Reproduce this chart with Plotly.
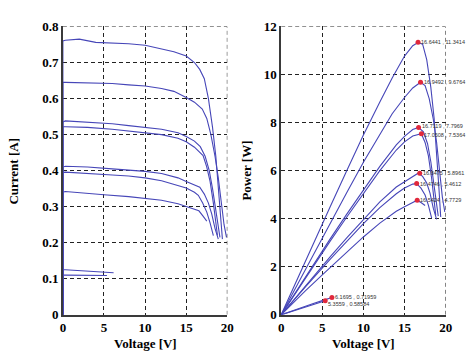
import numpy as np
import plotly.graph_objects as go

# ---- I-V curves (voltage [V], current [A]) ----
v_a = [0, 0, 0.3, 2, 4, 6, 8, 10, 12, 13.5, 15, 16, 16.64, 17.2, 17.7, 18.2, 18.6, 18.9, 19.2, 19.4]
i_a = [0, 0.76, 0.762, 0.765, 0.756, 0.755, 0.752, 0.748, 0.738, 0.73, 0.718, 0.70, 0.681, 0.655, 0.60, 0.52, 0.44, 0.36, 0.27, 0.21]

v_b = [0, 0, 0.3, 3, 6, 8, 10, 12, 13.5, 15, 16, 16.95, 17.5, 18.0, 18.5, 18.9, 19.3, 19.6, 19.9]
i_b = [0, 0.645, 0.645, 0.643, 0.642, 0.638, 0.635, 0.628, 0.62, 0.603, 0.59, 0.571, 0.545, 0.50, 0.44, 0.38, 0.31, 0.25, 0.215]

v_c = [0, 0, 0.3, 3, 6, 8, 10, 12, 14, 15, 16, 16.71, 17.3, 17.8, 18.2, 18.6, 18.9, 19.1]
i_c = [0, 0.535, 0.538, 0.535, 0.53, 0.525, 0.52, 0.515, 0.505, 0.495, 0.482, 0.4666, 0.44, 0.40, 0.35, 0.29, 0.24, 0.215]

v_d = [0, 0, 0.3, 3, 6, 8, 10, 12, 14, 15, 16, 17.05, 17.5, 17.9, 18.3, 18.6, 18.8]
i_d = [0, 0.522, 0.522, 0.52, 0.515, 0.51, 0.505, 0.5, 0.49, 0.48, 0.465, 0.442, 0.41, 0.37, 0.31, 0.26, 0.22]

v_e = [0, 0, 0.3, 3, 6, 8, 10, 12, 14, 15, 16, 16.65, 17.2, 17.7, 18.1, 18.5, 18.9]
i_e = [0, 0.41, 0.412, 0.41, 0.405, 0.402, 0.398, 0.392, 0.38, 0.37, 0.36, 0.354, 0.335, 0.31, 0.28, 0.24, 0.21]

v_f = [0, 0, 0.3, 3, 6, 8, 10, 12, 14, 15, 16, 16.47, 17.0, 17.5, 17.9, 18.3]
i_f = [0, 0.395, 0.396, 0.393, 0.388, 0.385, 0.38, 0.372, 0.36, 0.352, 0.34, 0.3316, 0.31, 0.285, 0.255, 0.22]

v_g = [0, 0, 0.3, 3, 5, 8, 10, 12, 14, 15, 16, 16.54, 17.0, 17.5]
i_g = [0, 0.34, 0.342, 0.338, 0.333, 0.328, 0.324, 0.318, 0.308, 0.30, 0.293, 0.2885, 0.275, 0.26]

v_h = [0, 0, 0.3, 2, 4, 5, 6.17]
i_h = [0, 0.125, 0.125, 0.123, 0.12, 0.118, 0.1166]

v_k = [0, 0, 0.3, 2, 4, 5.36]
i_k = [0, 0.11, 0.11, 0.109, 0.109, 0.109]

curves = [(v_a, i_a), (v_b, i_b), (v_c, i_c), (v_d, i_d), (v_e, i_e),
          (v_f, i_f), (v_g, i_g), (v_h, i_h), (v_k, i_k)]

# ---- Maximum power points (data tips on the right panel) ----
mpp_v = [16.6441, 16.9492, 16.7119, 17.0508, 16.8475, 16.4746, 16.5424, 6.1695, 5.3559]
mpp_p = [11.3414, 9.6764, 7.7969, 7.5364, 5.8961, 5.4612, 4.7729, 0.71959, 0.58584]
mpp_labels = ["16.6441 , 11.3414", "16.9492 , 9.6764", "16.7119 , 7.7969",
              "17.0508 , 7.5364", "16.8475 , 5.8961", "16.4746 , 5.4612",
              "16.5424 , 4.7729", "6.1695 , 0.71959", "5.3559 , 0.58584"]
mpp_yshift = [0, 0, 1, -1, 0, 0, 0, 1, -3]

x_ticks = [0, 5, 10, 15, 20]
i_ticks = [0, 0.1, 0.2, 0.3, 0.4, 0.5, 0.6, 0.7, 0.8]
i_ticktext = ["0", "0.1", "0.2", "0.3", "0.4", "0.5", "0.6", "0.7", "0.8"]
p_ticks = [0, 2, 4, 6, 8, 10, 12]

LINE = "#4646b8"
W, H = 474, 356
serif = "Liberation Serif, Times New Roman, serif"

fig = go.Figure()
for v, i in curves:
    fig.add_trace(go.Scatter(x=v, y=i, mode="lines", line=dict(color=LINE, width=1.1),
                             xaxis="x", yaxis="y", showlegend=False, hoverinfo="skip"))
for v, i in curves:
    p = (np.array(v) * np.array(i)).tolist()
    fig.add_trace(go.Scatter(x=v, y=p, mode="lines", line=dict(color=LINE, width=1.1),
                             xaxis="x2", yaxis="y2", showlegend=False, hoverinfo="skip"))

fig.add_trace(go.Scatter(x=mpp_v, y=mpp_p, mode="markers",
                         marker=dict(color="#e0283c", size=5, line=dict(width=0)),
                         xaxis="x2", yaxis="y2", showlegend=False, hoverinfo="skip"))

for xv, yv, lab, ys in zip(mpp_v, mpp_p, mpp_labels, mpp_yshift):
    fig.add_annotation(x=xv, y=yv, xref="x2", yref="y2", text=lab, showarrow=False,
                       xanchor="left", yanchor="middle", xshift=1, yshift=ys,
                       font=dict(family="Liberation Sans, Arial", size=5.5, color="#333333"))

xd1 = [53 / W, 221 / W]
xd2 = [276 / W, 444 / W]
yd = [1 - 313 / H, 1 - 12 / H]

tickfont = dict(family=serif, size=13, color="black", weight="bold")
common = dict(showgrid=True, gridcolor="#222222", gridwidth=1, griddash="4px,3px",
              showline=True, linecolor="#3a3a3a", linewidth=1.5, zeroline=False,
              ticks="", tickfont=tickfont, mirror=False)

fig.update_layout(
    width=W, height=H, margin=dict(l=0, r=0, t=0, b=0),
    paper_bgcolor="white", plot_bgcolor="white",
    xaxis=dict(domain=xd1, range=[0, 20], tickvals=x_ticks, anchor="y", **common),
    yaxis=dict(domain=yd, range=[0, 0.8], tickvals=i_ticks, ticktext=i_ticktext,
               anchor="x", **common),
    xaxis2=dict(domain=xd2, range=[0, 20], tickvals=x_ticks, anchor="y2", **common),
    yaxis2=dict(domain=yd, range=[0, 12], tickvals=p_ticks, anchor="x2", **common),
)

# dashed frame lines at the top and right edges of both panels (grid at range ends)
for xr, yr, ymax in (("x", "y", 0.8), ("x2", "y2", 12)):
    fig.add_shape(type="line", xref=xr, yref=yr, x0=0, x1=20, y0=ymax, y1=ymax,
                  line=dict(color="#222222", width=1, dash="4px,3px"))
    fig.add_shape(type="line", xref=xr, yref=yr, x0=20, x1=20, y0=0, y1=ymax,
                  line=dict(color="#222222", width=1, dash="4px,3px"))

titlefont = dict(family=serif, size=13, color="black", weight="bold")
for xd in (xd1, xd2):
    fig.add_annotation(x=(xd[0] + xd[1]) / 2, y=1 - 343 / H, xref="paper", yref="paper",
                       xanchor="center", yanchor="middle",
                       text="Voltage [V]", showarrow=False, font=titlefont)
fig.add_annotation(x=3 / W, y=(yd[0] + yd[1]) / 2, xref="paper", yref="paper",
                   xanchor="center", yanchor="middle",
                   text="Current [A]", textangle=-90, showarrow=False, font=titlefont)
fig.add_annotation(x=241 / W, y=(yd[0] + yd[1]) / 2, xref="paper", yref="paper",
                   xanchor="center", yanchor="middle",
                   text="Power [W]", textangle=-90, showarrow=False, font=titlefont)

fig.write_html("out.html")
